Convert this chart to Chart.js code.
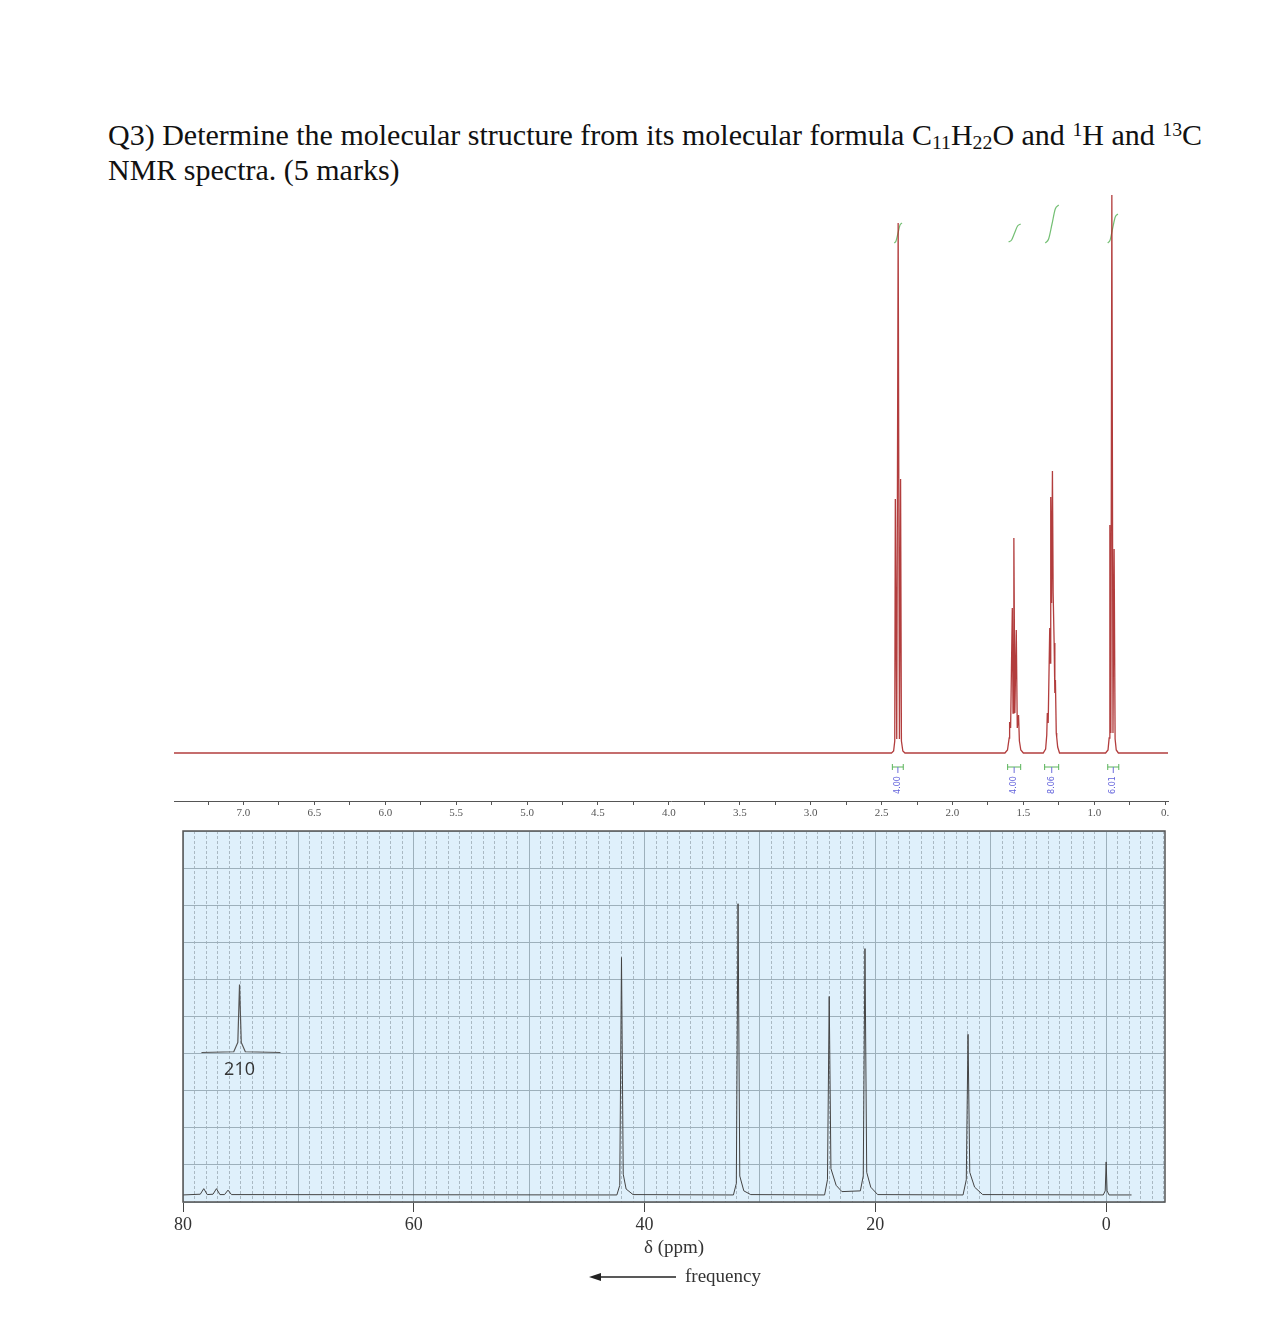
<!DOCTYPE html>
<html>
<head>
<meta charset="utf-8">
<script src="https://cdn.jsdelivr.net/npm/chart.js@4.4.0/dist/chart.umd.min.js"></script>
<style>
  body { margin: 0; background: #fff; width: 1278px; height: 1323px; position: relative; overflow: hidden; }
  #titre { position: absolute; left: 108px; top: 117px; font-family: 'Liberation Serif', 'Times New Roman', serif;
           font-size: 30px; line-height: 35px; color: #111; white-space: nowrap; }
  .bas { font-size: 0.66em; position: relative; top: 0.22em; line-height: 0; }
  .haut { font-size: 0.66em; position: relative; top: -0.45em; line-height: 0; }
  canvas { position: absolute; left: 0; }
  #specH { top: 185px; }
  #specC { top: 820px; }
</style>
</head>
<body>
<div id="titre">Q3) Determine the molecular structure from its molecular formula C<span class="bas">11</span>H<span class="bas">22</span>O and <span class="haut">1</span>H and <span class="haut">13</span>C<br>NMR spectra. (5 marks)</div>
<canvas id="specH" width="1278" height="645"></canvas>
<canvas id="specC" width="1278" height="503"></canvas>
<script>
// ---- spectre 1H : points (ppm, intensité) ----
const hPpm = [7.49, 2.43, 2.415, 2.407, 2.403, 2.393, 2.383, 2.374, 2.366, 2.36, 2.35, 2.335,
              1.63, 1.612, 1.60, 1.597, 1.59, 1.578, 1.573, 1.567, 1.56, 1.55, 1.543, 1.534, 1.528, 1.518, 1.50,
              1.36, 1.343, 1.335, 1.331, 1.325, 1.314, 1.31, 1.307, 1.301, 1.295, 1.29, 1.283, 1.278, 1.274, 1.268, 1.265, 1.258, 1.245,
              0.92, 0.903, 0.895, 0.89, 0.883, 0.876, 0.868, 0.86, 0.853, 0.845, 0.83, 0.48];
const hInt = [0, 0, 2, 12, 254, 14, 530, 14, 274, 12, 2, 0,
              0, 3, 15, 31, 25, 145, 40, 215, 40, 123, 25, 38, 12, 3, 0,
              0, 4, 18, 40, 30, 125, 90, 256, 150, 282, 160, 110, 60, 73, 20, 16, 6, 0,
              0, 3, 15, 228, 20, 558, 20, 204, 14, 3, 0, 0];

// courbes d'intégration
const integPpm = [[2.41, 2.398, 2.384, 2.37, 2.356],
                  [1.604, 1.583, 1.562, 1.541, 1.519],
                  [1.345, 1.322, 1.298, 1.275, 1.251],
                  [0.905, 0.888, 0.87, 0.852, 0.834]];
const integVal = [[510, 512, 520, 528, 530],
                  [511, 513, 520, 527, 529],
                  [510, 514, 529, 544, 548],
                  [510, 513, 525, 536, 539]];
const integCentre = [2.385, 1.565, 1.30, 0.866];
const integDebut = [2.424, 1.611, 1.350, 0.905];
const integFin = [2.347, 1.519, 1.251, 0.827];
const integTexte = ['4.00', '4.00', '8.06', '6.01'];

// ---- spectre 13C ----
const cPpm = [80, 78.5, 78.2, 77.9, 77.4, 77.1, 76.8, 76.4, 76.1, 75.8,
              42.4, 42.15, 42.0, 41.85, 41.6, 41.0,
              32.3, 32.05, 31.9, 31.75, 31.4, 30.8,
              24.4, 24.15, 24.0, 23.85, 23.4, 22.9, 21.3, 21.05, 20.9, 20.75, 20.4, 19.8,
              12.4, 12.12, 11.97, 11.82, 11.4, 10.7,
              0.25, 0.08, 0, -0.08, -0.25, -2.2];
const cInt = [0.19, 0.21, 0.36, 0.2, 0.21, 0.36, 0.2, 0.2, 0.32, 0.2,
              0.19, 0.45, 6.59, 0.75, 0.35, 0.2,
              0.19, 0.5, 8.04, 0.7, 0.3, 0.2,
              0.19, 0.6, 5.54, 0.9, 0.45, 0.28, 0.3, 0.7, 6.83, 0.8, 0.4, 0.2,
              0.19, 0.6, 4.52, 0.8, 0.4, 0.2,
              0.19, 0.3, 1.08, 0.3, 0.19, 0.19];
// encart du carbonyle (210 ppm)
const encartPpm = [78.4, 75.6, 75.25, 75.1, 74.95, 74.6, 71.55];
const encartInt = [4.03, 4.05, 4.3, 5.86, 4.3, 4.05, 4.03];
const encartTexte = '210';

const serif = "'Liberation Serif', 'Times New Roman', serif";

// étiquettes d'intégration sous le spectre 1H
const pluginInteg = {
    id: 'integ',
    afterDatasetsDraw(chart) {
        const ctx = chart.ctx;
        const x = chart.scales.x;
        const yb = 767 - 185;
        ctx.save();
        for (let i = 0; i < integCentre.length; i++) {
            const x1 = x.getPixelForValue(integDebut[i]);
            const x2 = x.getPixelForValue(integFin[i]);
            const xc = x.getPixelForValue(integCentre[i]);
            ctx.strokeStyle = 'rgb(90,180,90)';
            ctx.lineWidth = 1;
            ctx.beginPath();
            ctx.moveTo(x1, yb); ctx.lineTo(x2, yb);
            ctx.moveTo(x1, yb - 3); ctx.lineTo(x1, yb + 3);
            ctx.moveTo(x2, yb - 3); ctx.lineTo(x2, yb + 3);
            ctx.stroke();
            ctx.strokeStyle = 'rgb(110,110,220)';
            ctx.beginPath();
            ctx.moveTo(xc, yb); ctx.lineTo(xc, yb + 6);
            ctx.stroke();
            ctx.translate(xc, yb + 18);
            ctx.rotate(-Math.PI / 2);
            ctx.fillStyle = 'rgb(100,100,220)';
            ctx.font = "8px 'DejaVu Sans', sans-serif";
            ctx.textAlign = 'center';
            ctx.textBaseline = 'middle';
            ctx.fillText(integTexte[i], 0, 0);
            ctx.setTransform(1, 0, 0, 1, 0, 0);
        }
        ctx.restore();
    }
};

new Chart(document.getElementById('specH').getContext('2d'), {
    type: 'line',
    data: {
        datasets: [{
            data: hPpm.map((p, i) => ({ x: p, y: hInt[i] })),
            borderColor: 'rgba(170,40,40,0.9)',
            borderWidth: 1.3,
            pointRadius: 0,
            tension: 0
        }].concat(integPpm.map((tab, k) => ({
            data: tab.map((p, i) => ({ x: p, y: integVal[k][i] })),
            borderColor: 'rgba(90,180,90,0.85)',
            borderWidth: 1.2,
            pointRadius: 0,
            cubicInterpolationMode: 'monotone'
        })))
    },
    options: {
        responsive: false,
        animation: false,
        devicePixelRatio: 1,
        layout: { padding: { left: 174, right: 110, top: 5, bottom: 4 } },
        plugins: { legend: { display: false }, tooltip: { enabled: false } },
        scales: {
            x: {
                type: 'linear',
                min: 0.48,
                max: 7.49,
                reverse: true,
                ticks: {
                    stepSize: 0.25,
                    includeBounds: false,
                    autoSkip: false,
                    maxRotation: 0,
                    color: '#555',
                    font: { family: serif, size: 11 },
                    padding: 2,
                    callback: v => {
                        if (Math.abs(v * 2 - Math.round(v * 2)) > 1e-6) return '';
                        if (Math.abs(v - 0.5) < 1e-6) return '0.';
                        return v.toFixed(1);
                    }
                },
                grid: { drawOnChartArea: false, tickLength: 4, tickColor: '#555' },
                border: { color: '#555', width: 1 },
                afterFit: s => { s.height = 25; }
            },
            y: { display: false, min: -48, max: 563 }
        }
    },
    plugins: [pluginInteg]
});

// fond bleu, cadre et textes du spectre 13C
const pluginCadre = {
    id: 'cadre',
    beforeDraw(chart) {
        const a = chart.chartArea;
        chart.ctx.save();
        chart.ctx.fillStyle = 'rgb(223,240,251)';
        chart.ctx.fillRect(a.left, a.top, a.right - a.left, a.bottom - a.top);
        chart.ctx.restore();
    },
    afterDraw(chart) {
        const ctx = chart.ctx;
        const a = chart.chartArea;
        const x = chart.scales.x;
        const y = chart.scales.y;
        ctx.save();
        ctx.strokeStyle = '#555';
        ctx.lineWidth = 1.5;
        ctx.strokeRect(a.left, a.top, a.right - a.left, a.bottom - a.top);
        ctx.fillStyle = '#333';
        ctx.font = "18px 'Open Sans', sans-serif";
        ctx.textAlign = 'center';
        ctx.textBaseline = 'middle';
        ctx.fillText(encartTexte, x.getPixelForValue(75.1), y.getPixelForValue(3.55));
        // flèche "frequency"
        const yf = 1277 - 820;
        ctx.strokeStyle = '#222';
        ctx.lineWidth = 1.5;
        ctx.beginPath();
        ctx.moveTo(598, yf); ctx.lineTo(676, yf);
        ctx.stroke();
        ctx.fillStyle = '#222';
        ctx.beginPath();
        ctx.moveTo(589, yf); ctx.lineTo(601, yf - 4); ctx.lineTo(601, yf + 4);
        ctx.closePath();
        ctx.fill();
        ctx.fillStyle = '#333';
        ctx.font = '19px ' + serif;
        ctx.textAlign = 'left';
        ctx.fillText('frequency', 685, yf);
        ctx.restore();
    }
};

new Chart(document.getElementById('specC').getContext('2d'), {
    type: 'line',
    data: {
        datasets: [{
            data: cPpm.map((p, i) => ({ x: p, y: cInt[i] })),
            borderColor: '#444',
            borderWidth: 1,
            pointRadius: 0,
            tension: 0
        }, {
            data: encartPpm.map((p, i) => ({ x: p, y: encartInt[i] })),
            borderColor: '#555',
            borderWidth: 1.2,
            pointRadius: 0,
            tension: 0
        }]
    },
    options: {
        responsive: false,
        animation: false,
        devicePixelRatio: 1,
        layout: { padding: { left: 183, right: 113, top: 11, bottom: 64 } },
        plugins: { legend: { display: false }, tooltip: { enabled: false } },
        scales: {
            x: {
                type: 'linear',
                min: -5.1,
                max: 80,
                reverse: true,
                ticks: {
                    stepSize: 1,
                    includeBounds: false,
                    autoSkip: false,
                    maxRotation: 0,
                    color: '#333',
                    font: { family: serif, size: 18 },
                    padding: 2,
                    callback: v => (Math.round(v) % 20 === 0 ? String(Math.round(v)) : '')
                },
                grid: {
                    color: c => (Math.round(c.tick.value) % 10 === 0 ? '#9db0bb' : '#aab9c3'),
                    lineWidth: 1,
                    tickLength: 10,
                    tickColor: c => (Math.round(c.tick.value) % 20 === 0 ? '#444' : 'rgba(0,0,0,0)')
                },
                border: {
                    display: false,
                    dash: c => (Math.round(c.tick.value) % 10 === 0 ? [] : [3, 2])
                },
                title: { display: true, text: 'δ (ppm)', color: '#333', font: { family: serif, size: 19 }, padding: 0 },
                afterFit: s => { s.height = 57; }
            },
            y: {
                min: 0,
                max: 10,
                ticks: { display: false, stepSize: 1 },
                grid: { color: '#9db0bb', drawTicks: false },
                border: { display: false },
                afterFit: s => { s.width = 0; }
            }
        }
    },
    plugins: [pluginCadre]
});
</script>
</body>
</html>
